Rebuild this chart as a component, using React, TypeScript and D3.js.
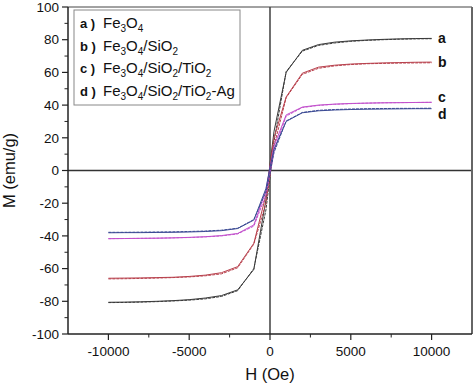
import React from "react";
import * as d3 from "d3";

// Descending branch field values (Oe)
const fieldValues = [10000, 9000, 8000, 7000, 6000, 5000, 4000, 3000, 2000, 1000, 250, 0, -250, -1000, -2000, -3000, -4000, -5000, -6000, -7000, -8000, -9000, -10000];

const seriesA = [80.8, 80.7, 80.5, 80.2, 79.8, 79.3, 78.5, 77, 73.5, 60, 24, 4, -18, -60.5, -73, -76.5, -78, -79, -79.6, -80, -80.3, -80.5, -80.6];
const seriesB = [66.3, 66.2, 66, 65.8, 65.5, 65.1, 64.4, 63.2, 59.5, 45, 20, 3, -15, -44.5, -58.8, -62.5, -64, -64.8, -65.3, -65.5, -65.7, -65.8, -65.9];
const seriesC = [41.7, 41.6, 41.5, 41.4, 41.2, 41, 40.6, 40, 38.8, 34, 15, 2, -12, -33.3, -38.5, -39.8, -40.5, -40.9, -41.2, -41.4, -41.5, -41.6, -41.7];
const seriesD = [37.8, 37.8, 37.7, 37.6, 37.5, 37.3, 37, 36.5, 35.3, 30, 13, 2, -11, -30.3, -35.5, -36.8, -37.3, -37.6, -37.8, -37.9, -38, -38, -38.1];

const seriesKeys = ["a", "b", "c", "d"];
const seriesColors = ["#3a3a3a", "#b8404c", "#c24fcc", "#3b4a94"];
const allSeries = [seriesA, seriesB, seriesC, seriesD];

const xTicks = [-10000, -5000, 0, 5000, 10000];
const xMinorTicks = [-7500, -2500, 2500, 7500];
const yTicks = [-100, -80, -60, -40, -20, 0, 20, 40, 60, 80, 100];
const yMinorTicks = [-90, -70, -50, -30, -10, 10, 30, 50, 70, 90];

const FONT = "'Liberation Sans', Arial, sans-serif";

export default function App() {
  const left = 68, right = 472, top = 7, bottom = 334;
  const x = d3.scaleLinear().domain([-12500, 12500]).range([left, right]);
  const y = d3.scaleLinear().domain([-100, 100]).range([bottom, top]);
  const line = d3.line<[number, number]>().x((d) => x(d[0])).y((d) => y(d[1]));

  const legendRows: React.ReactNode[] = [
    <>Fe<tspan fontSize="10" dy="4">3</tspan><tspan dy="-4">O</tspan><tspan fontSize="10" dy="4">4</tspan></>,
    <>Fe<tspan fontSize="10" dy="4">3</tspan><tspan dy="-4">O</tspan><tspan fontSize="10" dy="4">4</tspan><tspan dy="-4">/SiO</tspan><tspan fontSize="10" dy="4">2</tspan></>,
    <>Fe<tspan fontSize="10" dy="4">3</tspan><tspan dy="-4">O</tspan><tspan fontSize="10" dy="4">4</tspan><tspan dy="-4">/SiO</tspan><tspan fontSize="10" dy="4">2</tspan><tspan dy="-4">/TiO</tspan><tspan fontSize="10" dy="4">2</tspan></>,
    <>Fe<tspan fontSize="10" dy="4">3</tspan><tspan dy="-4">O</tspan><tspan fontSize="10" dy="4">4</tspan><tspan dy="-4">/SiO</tspan><tspan fontSize="10" dy="4">2</tspan><tspan dy="-4">/TiO</tspan><tspan fontSize="10" dy="4">2</tspan><tspan dy="-4">-Ag</tspan></>,
  ];

  return (
    <svg width={474} height={386} style={{ position: "absolute", left: 0, top: 0, background: "#fff" }} fontFamily={FONT}>
      {/* zero lines */}
      <line x1={left} x2={right} y1={y(0)} y2={y(0)} stroke="#333" strokeWidth={1.3} />
      <line x1={x(0)} x2={x(0)} y1={top} y2={bottom} stroke="#222" strokeWidth={1.3} />

      {/* curves: descending branch and its point-reflected ascending branch */}
      {allSeries.map((vals, i) => {
        const desc: [number, number][] = fieldValues.map((h, j) => [h, vals[j]]);
        const asc: [number, number][] = fieldValues.map((h, j) => [-h, -vals[j]]);
        return (
          <g key={i} fill="none" stroke={seriesColors[i]} strokeWidth={1}>
            <path d={line(desc) || ""} />
            <path d={line(asc) || ""} strokeDasharray="3 1" />
          </g>
        );
      })}

      {/* frame */}
      <line x1={left} x2={right} y1={top} y2={top} stroke="#444" strokeWidth={1} />
      <line x1={right} x2={right} y1={top} y2={bottom} stroke="#666" strokeWidth={2} />
      <line x1={left} x2={left} y1={top} y2={bottom} stroke="#222" strokeWidth={1.5} />
      <line x1={left} x2={right} y1={bottom} y2={bottom} stroke="#222" strokeWidth={1.5} />

      {/* y ticks */}
      {yTicks.map((t) => (
        <g key={"y" + t}>
          <line x1={left - 6} x2={left} y1={y(t)} y2={y(t)} stroke="#222" strokeWidth={1.2} />
          <text x={left - 9} y={y(t)} dy="0.35em" textAnchor="end" fontSize={13.5} fill="#111">{t}</text>
        </g>
      ))}
      {yMinorTicks.map((t) => (
        <line key={"ym" + t} x1={left - 3.5} x2={left} y1={y(t)} y2={y(t)} stroke="#222" strokeWidth={1} />
      ))}

      {/* x ticks */}
      {xTicks.map((t) => (
        <g key={"x" + t}>
          <line x1={x(t)} x2={x(t)} y1={bottom} y2={bottom + 6} stroke="#222" strokeWidth={1.2} />
          <text x={x(t)} y={bottom + 22} textAnchor="middle" fontSize={13.5} fill="#111">{t}</text>
        </g>
      ))}
      {xMinorTicks.map((t) => (
        <line key={"xm" + t} x1={x(t)} x2={x(t)} y1={bottom} y2={bottom + 3.5} stroke="#222" strokeWidth={1} />
      ))}

      {/* axis titles */}
      <text x={270} y={380} textAnchor="middle" fontSize={16.5} fill="#111">H (Oe)</text>
      <text transform={`translate(15,${(top + bottom) / 2}) rotate(-90)`} textAnchor="middle" fontSize={16.5} fill="#111">M (emu/g)</text>

      {/* legend */}
      <rect x={74} y={10} width={166} height={95} fill="#fff" stroke="#888" strokeWidth={1} />
      {seriesKeys.map((k, i) => (
        <g key={"lg" + k}>
          <text x={80} y={28 + i * 22.5} fontSize={13} fontWeight="bold" fill="#111">{k} )</text>
          <text x={103} y={28 + i * 22.5} fontSize={15} fill="#111">{legendRows[i]}</text>
        </g>
      ))}

      {/* end labels */}
      {seriesKeys.map((k, i) => (
        <text key={"el" + k} x={438} y={y(allSeries[i][0])} dy={i === 2 ? "-0.05em" : i === 3 ? "0.75em" : "0.35em"} fontSize={14} fontWeight="bold" fill="#111">{k}</text>
      ))}
    </svg>
  );
}
